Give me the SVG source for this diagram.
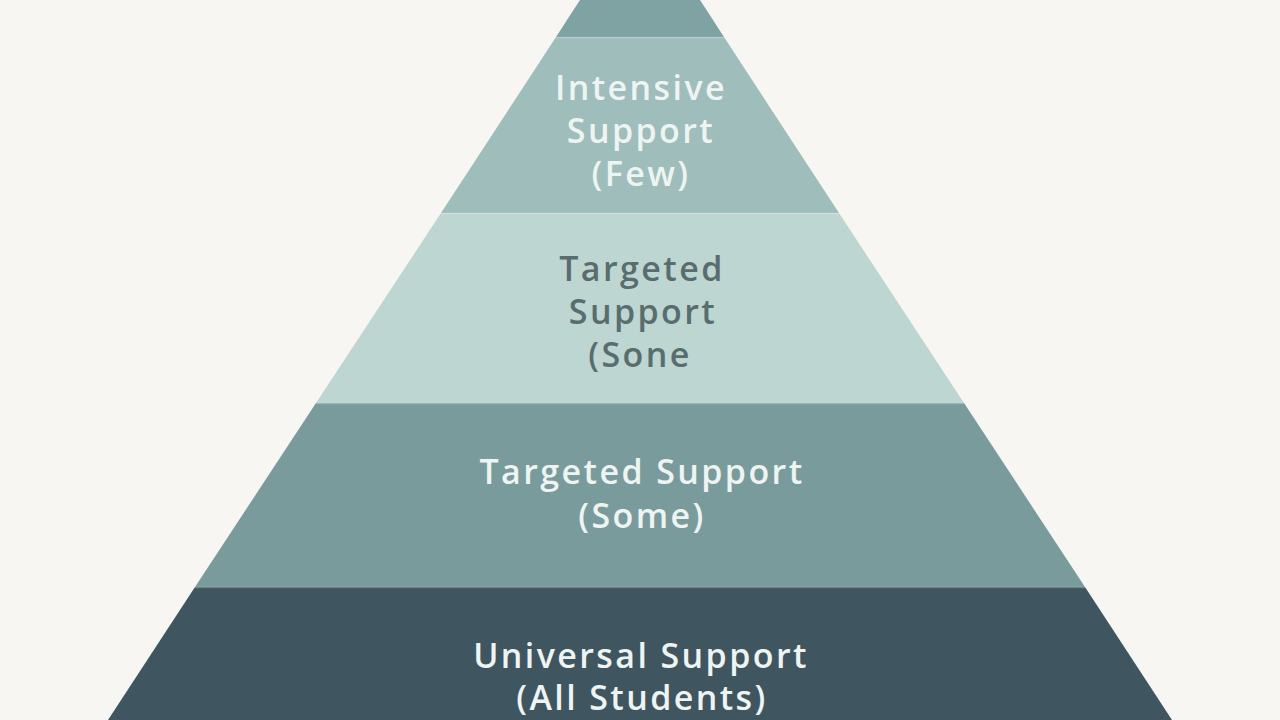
<svg xmlns="http://www.w3.org/2000/svg" width="1280" height="720" viewBox="0 0 1280 720">
<style>
.lbl{font-family:"Open Sans","Noto Sans","DejaVu Sans",sans-serif;font-weight:600;font-size:34px;letter-spacing:2.4px;text-anchor:middle}
.light{fill:#eef4f2}
.dark{fill:#5a6d6e}
.sep{stroke:#ffffff;stroke-opacity:0.25;stroke-width:1.5}
</style>
<rect width="1280" height="720" fill="#f7f6f3"/>
<g id="tier-top">
<polygon points="580,0 700,0 724,37 556,37" fill="#7fa2a2"/>
</g>
<g id="tier-intensive">
<polygon points="556,37 724,37 839,213 441,213" fill="#9ebdbb"/>
<text class="lbl light" x="641" y="100">Intensive</text>
<text class="lbl light" x="641" y="143">Support</text>
<text class="lbl light" x="641" y="186">(Few)</text>
</g>
<g id="tier-targeted-1">
<polygon points="441,213 839,213 964,403 316,403" fill="#bdd6d2"/>
<text class="lbl dark" x="642" y="281">Targeted</text>
<text class="lbl dark" x="643" y="324">Support</text>
<text class="lbl dark" x="640" y="367">(Sone</text>
</g>
<g id="tier-targeted-2">
<polygon points="316,403 964,403 1085,587 195,587" fill="#7a9b9b"/>
<text class="lbl light" x="642" y="484">Targeted Support</text>
<text class="lbl light" x="642" y="528">(Some)</text>
</g>
<g id="tier-universal">
<polygon points="195,587 1085,587 1172,720 108,720" fill="#3f5560"/>
<text class="lbl light" x="641" y="668">Universal Support</text>
<text class="lbl light" x="642" y="710">(All Students)</text>
</g>
<g id="connectors">
<line class="sep" x1="556" y1="37.5" x2="724" y2="37.5"/>
<line class="sep" x1="441" y1="213.5" x2="839" y2="213.5"/>
<line class="sep" x1="316" y1="403.5" x2="964" y2="403.5"/>
<line class="sep" x1="195" y1="587.5" x2="1085" y2="587.5"/>
</g>
</svg>
